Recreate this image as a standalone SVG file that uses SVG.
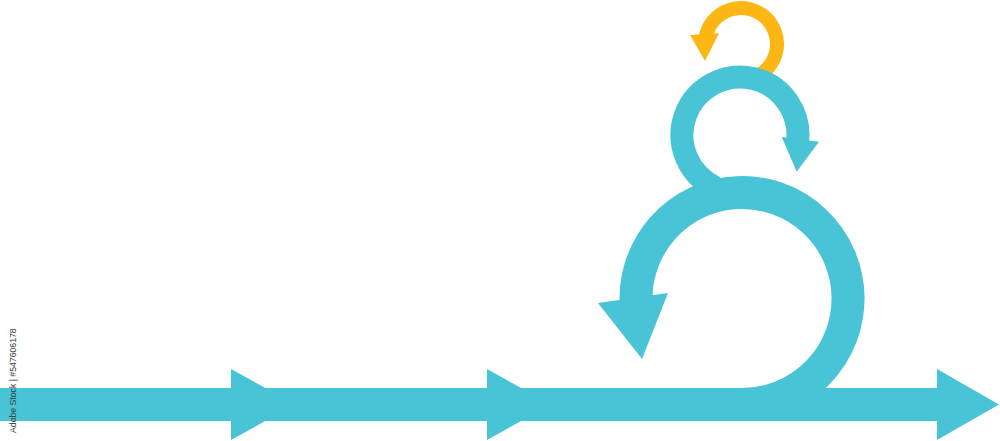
<svg xmlns="http://www.w3.org/2000/svg" width="1000" height="441" viewBox="0 0 1000 441">
<style>
.blue{fill:#48c4d6}
.bstroke{fill:none;stroke:#48c4d6;stroke-linecap:butt}
.orange{fill:#fdb714}
.ostroke{fill:none;stroke:#fdb714;stroke-linecap:butt}
.credit{font-family:"Liberation Sans",Arial,sans-serif;font-size:8.7px;fill:#3a3a3a}
</style>
<rect width="1000" height="441" fill="#ffffff"/>
<g id="orange-loop">
<path class="ostroke" stroke-width="14" d="M 753.3 77.8 A 36 36 0 1 0 705.8 36.5"/>
<polygon class="orange" points="690,35 719,33.3 705,61"/>
</g>
<g id="small-loop">
<path class="bstroke" stroke-width="23" d="M 715.5 187.6 A 58 58 0 1 1 797.4 143.1"/>
<polygon class="blue" points="781.7,137 819,141.7 796.7,171.7"/>
</g>
<g id="main-line">
<rect class="blue" x="0" y="388" width="940" height="33"/>
<polygon class="blue" points="231,369 295,404.5 231,440"/>
<polygon class="blue" points="487,369 551,404.5 487,440"/>
<polygon class="blue" points="937,369 999,404.5 937,440"/>
</g>
<g id="big-loop">
<path class="bstroke" stroke-width="33" d="M 742 404.5 A 106 106 0 1 0 636.3 305.9"/>
<polygon class="blue" points="598,303 668,293 642,359"/>
</g>
<text class="credit" transform="translate(15.5,433) rotate(-90)">Adobe Stock | #547606178</text>
</svg>
